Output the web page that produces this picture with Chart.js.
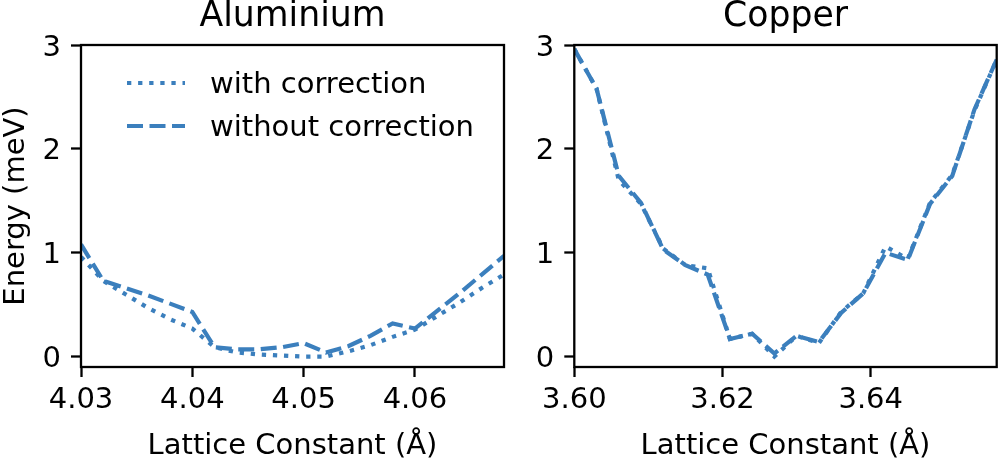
<!DOCTYPE html>
<html>
<head>
<meta charset="utf-8">
<script src="https://cdn.jsdelivr.net/npm/chart.js@4.4.1/dist/chart.umd.min.js"></script>
<style>
  html, body { margin: 0; padding: 0; background: #fff; }
  body { width: 1000px; height: 462px; position: relative; overflow: hidden; font-family: "DejaVu Sans", sans-serif; }
  .panel { position: absolute; top: 0; height: 462px; }
  #legend { position: absolute; font-size: 29px; color: #000; }
  #legend .row { display: flex; align-items: center; height: 43px; white-space: nowrap; }
  #legend svg { margin-right: 25px; }
</style>
</head>
<body>
<div class="panel" style="left:0;width:510px"><canvas id="alChart" width="510" height="462"></canvas></div>
<div class="panel" style="left:510px;width:490px"><canvas id="cuChart" width="490" height="462"></canvas></div>
<div id="legend"></div>
<script>
// Aluminium
const alLattice = [4.030, 4.032, 4.034, 4.036, 4.038, 4.040, 4.042, 4.044, 4.046, 4.048,
                   4.050, 4.052, 4.054, 4.056, 4.058, 4.060, 4.062, 4.064, 4.066, 4.068];
const alWith    = [0.96, 0.73, 0.60, 0.47, 0.36, 0.27, 0.09, 0.04, 0.02, 0.01,
                   0.00, 0.00, 0.05, 0.11, 0.19, 0.26, 0.39, 0.52, 0.66, 0.79];
const alWithout = [1.08, 0.73, 0.66, 0.59, 0.51, 0.43, 0.09, 0.07, 0.07, 0.09,
                   0.13, 0.04, 0.10, 0.20, 0.32, 0.27, 0.44, 0.61, 0.79, 0.97];

// Copper
const cuLattice = [3.600, 3.603, 3.606, 3.609, 3.612, 3.615, 3.618, 3.621, 3.624, 3.627,
                   3.630, 3.633, 3.636, 3.639, 3.642, 3.645, 3.648, 3.651, 3.654, 3.657];
const cuWith    = [2.96, 2.58, 1.70, 1.47, 1.04, 0.88, 0.85, 0.17, 0.22, 0.00,
                   0.20, 0.13, 0.43, 0.61, 1.06, 0.94, 1.48, 1.75, 2.37, 2.86];
const cuWithout = [2.96, 2.58, 1.74, 1.48, 1.03, 0.88, 0.79, 0.17, 0.22, 0.03,
                   0.20, 0.14, 0.42, 0.61, 1.00, 0.93, 1.47, 1.74, 2.38, 2.86];

// tick labels
const energyTicks = [0, 1, 2, 3];
const alTicks = [4.03, 4.04, 4.05, 4.06];
const cuTicks = [3.60, 3.62, 3.64];

const seriesLabels = ['with correction', 'without correction'];

const blue = '#3b7fbd';
const dotted = [4.3, 6.8];
const dashed = [16, 6.5];
const fontFamily = '"DejaVu Sans", sans-serif';

// black box round the axes, like matplotlib spines
const frame = {
  id: 'frame',
  afterDatasetsDraw(chart) {
    const { ctx, chartArea: a } = chart;
    ctx.save();
    ctx.strokeStyle = '#000';
    ctx.lineWidth = 2.3;
    ctx.strokeRect(a.left, a.top, a.right - a.left, a.bottom - a.top);
    ctx.restore();
  }
};

function toPoints(xs, ys) {
  return xs.map((x, i) => ({ x: x, y: ys[i] }));
}

function makeChart(id, title, xs, withVals, withoutVals, xTicks, opts) {
  const ctx = document.getElementById(id).getContext('2d');
  return new Chart(ctx, {
    type: 'line',
    data: {
      datasets: [{
        label: seriesLabels[0],
        data: toPoints(xs, withVals),
        borderColor: blue,
        borderWidth: 4.2,
        borderDash: dotted,
        borderCapStyle: 'butt',
        pointRadius: 0,
        tension: 0,
        fill: false
      }, {
        label: seriesLabels[1],
        data: toPoints(xs, withoutVals),
        borderColor: blue,
        borderWidth: 4.2,
        borderDash: dashed,
        borderCapStyle: 'butt',
        pointRadius: 0,
        tension: 0,
        fill: false
      }]
    },
    options: {
      responsive: false,
      animation: false,
      layout: { padding: { left: 0, right: opts.padRight, top: 0, bottom: 0 } },
      plugins: {
        legend: { display: false },
        tooltip: { enabled: false },
        title: {
          display: true,
          text: title,
          fullSize: false,
          color: '#000',
          font: { family: fontFamily, size: 34.7, weight: 'normal', lineHeight: 1 },
          padding: { top: 0, bottom: 10.3 }
        }
      },
      scales: {
        x: {
          type: 'linear',
          min: xs[0],
          max: xs[xs.length - 1],
          afterFit: (s) => { s.height = 95; },
          afterBuildTicks: (s) => { s.ticks = xTicks.map(v => ({ value: v })); },
          border: { display: false },
          grid: { drawOnChartArea: false, drawTicks: true, tickLength: 10, tickWidth: 2.3, tickColor: '#000' },
          ticks: {
            color: '#000',
            padding: 6,
            maxRotation: 0,
            font: { family: fontFamily, size: 29 },
            callback: (v) => Number(v).toFixed(2)
          },
          title: {
            display: true,
            text: 'Lattice Constant (Å)',
            color: '#000',
            font: { family: fontFamily, size: 29, lineHeight: 1 },
            padding: { top: 0, bottom: 1.5 }
          }
        },
        y: {
          min: -0.1,
          max: 3.0,
          afterFit: (s) => { s.width = opts.yWidth; },
          afterBuildTicks: (s) => { s.ticks = energyTicks.map(v => ({ value: v })); },
          border: { display: false },
          grid: { drawOnChartArea: false, drawTicks: true, tickLength: 10, tickWidth: 2.3, tickColor: '#000' },
          ticks: {
            color: '#000',
            padding: 10,
            labelOffset: 3,
            font: { family: fontFamily, size: 29 },
            callback: (v) => String(v)
          },
          title: {
            display: opts.yTitle,
            text: 'Energy (meV)',
            color: '#000',
            font: { family: fontFamily, size: 29, lineHeight: 1 },
            padding: { top: 1.5, bottom: 0 }
          }
        }
      }
    },
    plugins: [frame]
  });
}

const alChart = makeChart('alChart', 'Aluminium', alLattice, alWith, alWithout, alTicks,
  { padRight: 6, yWidth: 81, yTitle: true });
const cuChart = makeChart('cuChart', 'Copper', cuLattice, cuWith, cuWithout, cuTicks,
  { padRight: 3.3, yWidth: 64.3, yTitle: false });

// legend inside the Aluminium axes, built from the chart's datasets
const legendBox = document.getElementById('legend');
const area = alChart.chartArea;
legendBox.style.left = (area.left + 46) + 'px';
legendBox.style.top = (area.top + 16.5) + 'px';
alChart.data.datasets.forEach(ds => {
  const row = document.createElement('div');
  row.className = 'row';
  row.innerHTML =
    '<svg width="58" height="10"><line x1="0" y1="5" x2="58" y2="5" stroke="' + ds.borderColor +
    '" stroke-width="' + ds.borderWidth + '" stroke-dasharray="' + ds.borderDash.join(' ') + '"/></svg>' +
    '<span>' + ds.label + '</span>';
  legendBox.appendChild(row);
});
</script>
</body>
</html>
